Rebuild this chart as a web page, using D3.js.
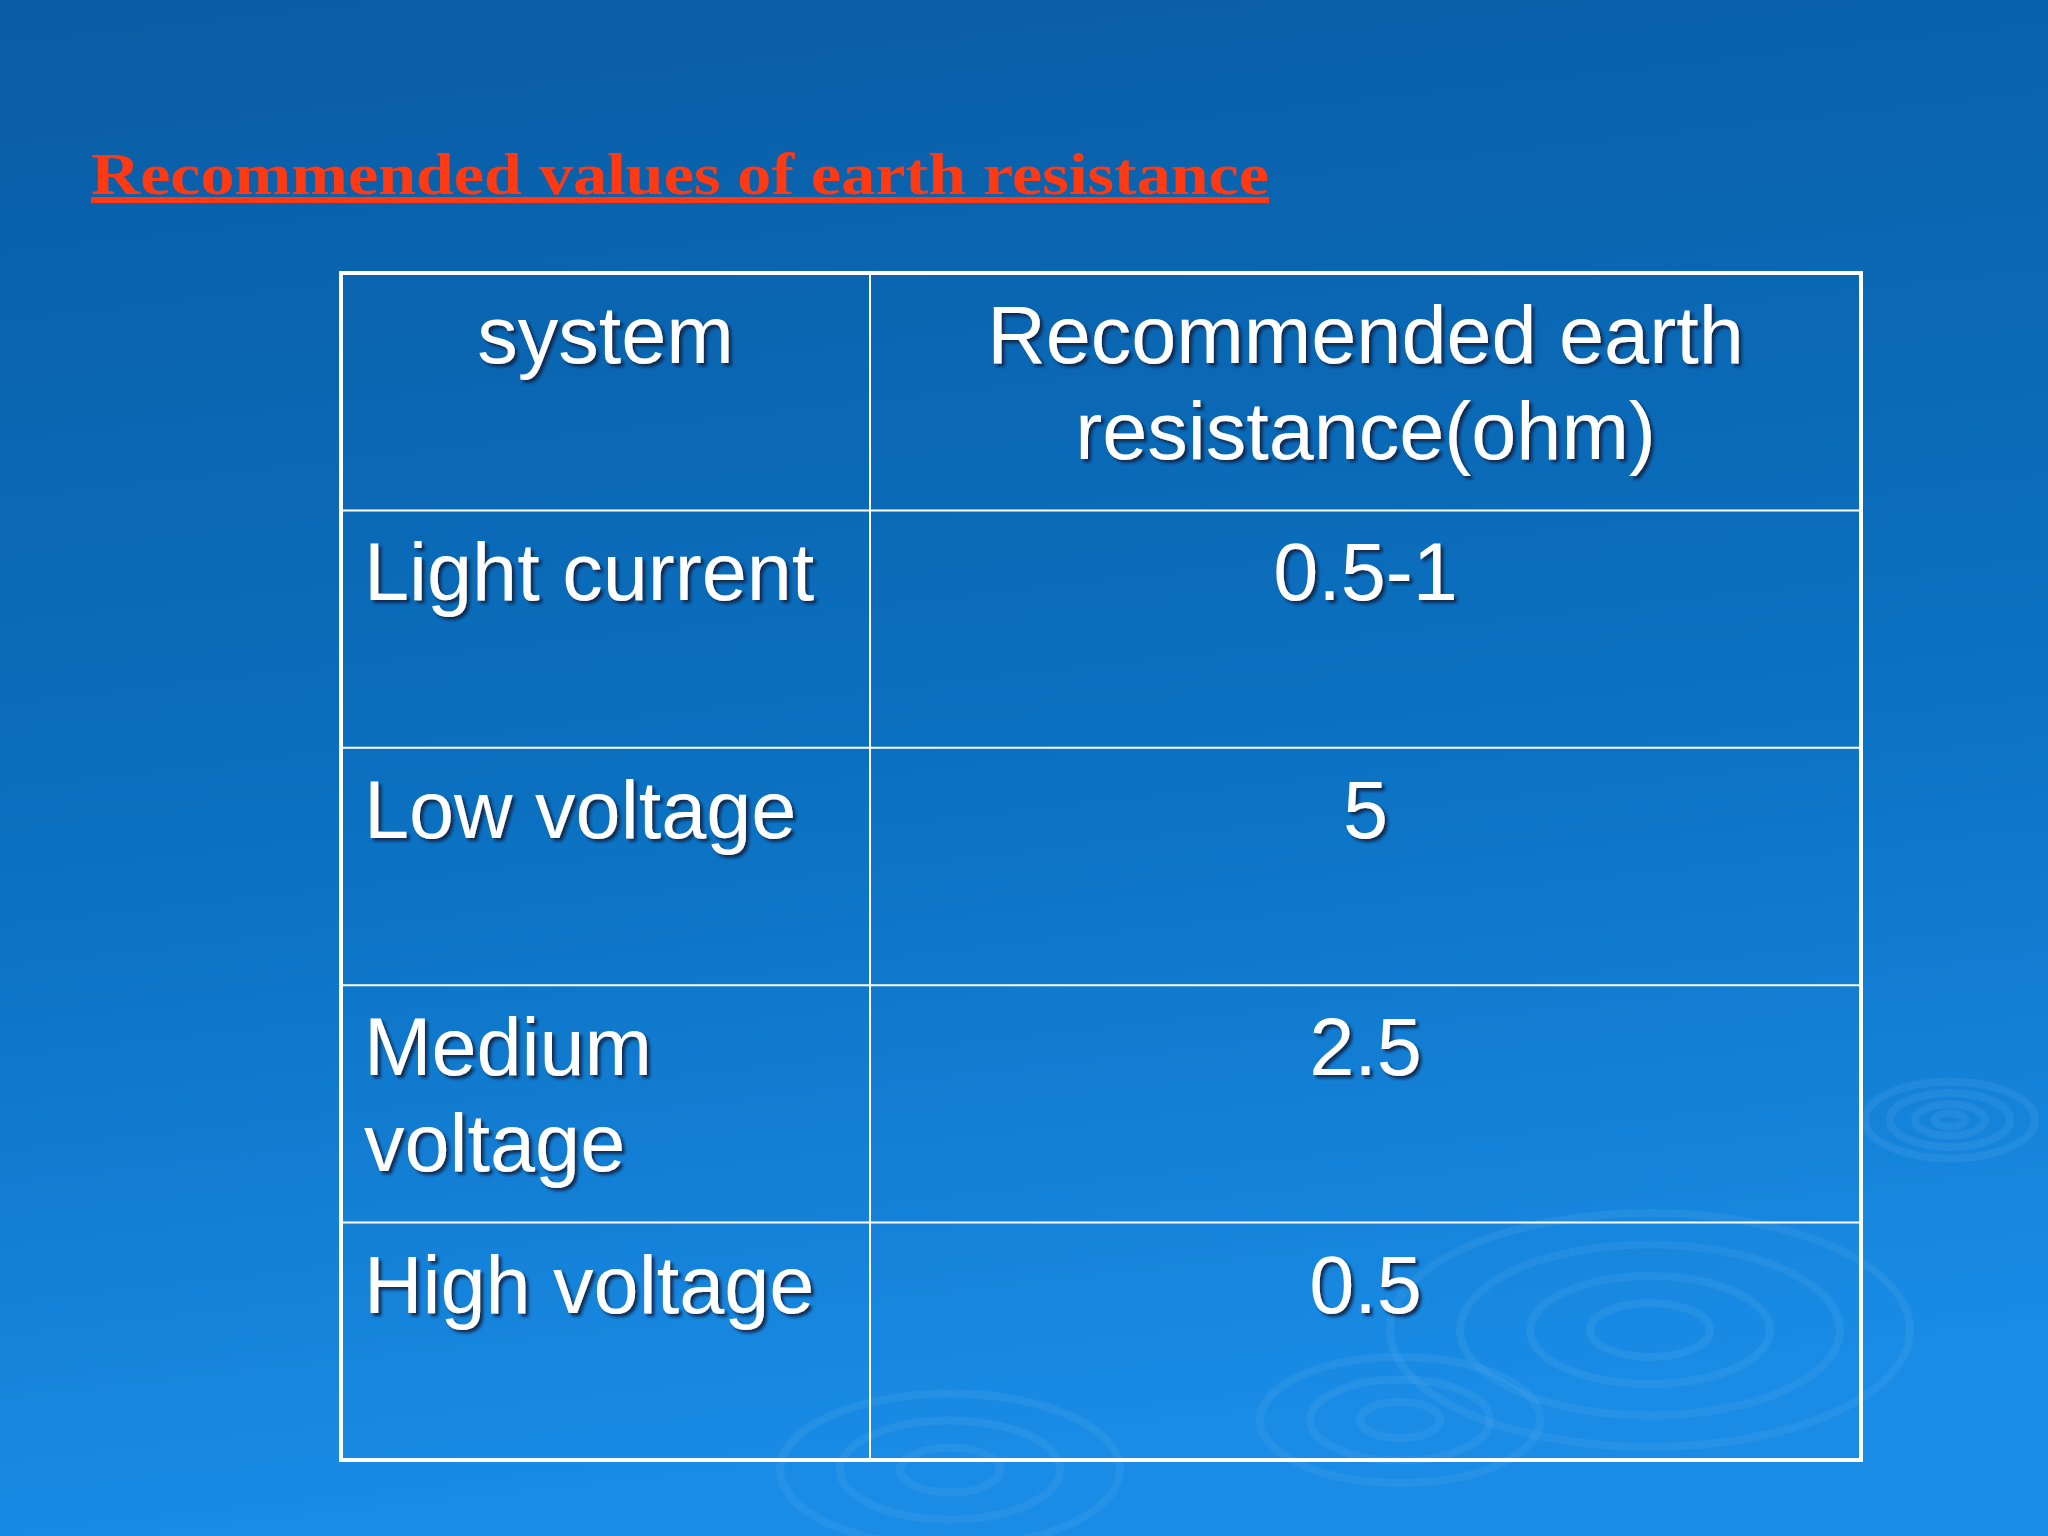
<!DOCTYPE html>
<html>
<head>
<meta charset="utf-8">
<script src="https://cdn.jsdelivr.net/npm/d3@7.9.0/dist/d3.min.js"></script>
<style>
  html, body { margin: 0; padding: 0; background: #0b62ab; }
  svg { display: block; }
</style>
</head>
<body>
<svg id="chart" width="2048" height="1536"></svg>
<script>
const title = 'Recommended values of earth resistance';
const headers = [['system'], ['Recommended earth', 'resistance(ohm)']];
const systems = [['Light current'], ['Low voltage'], ['Medium', 'voltage'], ['High voltage']];
const values = ['0.5-1', '5', '2.5', '0.5'];

const W = 2048, H = 1536;
const svg = d3.select('#chart');
const defs = svg.append('defs');

const bg = defs.append('linearGradient').attr('id', 'bg')
  .attr('x1', 0).attr('y1', 0).attr('x2', 0.15).attr('y2', 1);
bg.append('stop').attr('offset', '0%').attr('stop-color', '#0a5ca4');
bg.append('stop').attr('offset', '55%').attr('stop-color', '#0b70c0');
bg.append('stop').attr('offset', '100%').attr('stop-color', '#1a8ce6');

const shadow = defs.append('filter').attr('id', 'shadow')
  .attr('x', '-10%').attr('y', '-10%').attr('width', '130%').attr('height', '140%');
shadow.append('feDropShadow').attr('dx', 3).attr('dy', 3).attr('stdDeviation', 1.5)
  .attr('flood-color', '#0a2040').attr('flood-opacity', 0.85);

svg.append('rect').attr('width', W).attr('height', H).attr('fill', 'url(#bg)');

// faint ripple decorations
const ripples = [
  { cx: 1650, cy: 1330, r: [60, 120, 190, 260] },
  { cx: 1950, cy: 1120, r: [15, 35, 60, 85] },
  { cx: 1400, cy: 1420, r: [40, 90, 140] },
  { cx: 950, cy: 1470, r: [50, 110, 170] }
];
ripples.forEach(rp => {
  svg.append('g').selectAll('ellipse').data(rp.r).join('ellipse')
    .attr('cx', rp.cx).attr('cy', rp.cy)
    .attr('rx', d => d).attr('ry', d => d * 0.45)
    .attr('fill', 'none').attr('stroke', '#5fb3f0')
    .attr('stroke-opacity', 0.18).attr('stroke-width', 8);
});

// title
svg.append('text')
  .attr('x', 91).attr('y', 194)
  .attr('font-family', '"Liberation Serif", "Times New Roman", serif')
  .attr('font-weight', 'bold').attr('font-size', 60)
  .attr('fill', '#ff3a12').attr('text-decoration', 'underline')
  .attr('textLength', 1178).attr('lengthAdjust', 'spacingAndGlyphs')
  .text(title);

// table geometry via scales
const tLeft = 341, tMid = 870, tRight = 1861, tTop = 273, tBottom = 1460;
const rowLabels = ['header'].concat(systems.map((d, i) => 'r' + i));
const y = d3.scaleBand().domain(rowLabels).range([tTop, tBottom]);
const x = d3.scaleOrdinal().domain([0, 1]).range([[tLeft, tMid], [tMid, tRight]]);

const grid = svg.append('g').attr('stroke', '#ffffff');
grid.selectAll('line.h').data(rowLabels.slice(1)).join('line')
  .attr('x1', tLeft).attr('x2', tRight)
  .attr('y1', d => y(d)).attr('y2', d => y(d)).attr('stroke-width', 2);
grid.append('line').attr('x1', tMid).attr('x2', tMid).attr('y1', tTop).attr('y2', tBottom)
  .attr('stroke-width', 2);
grid.append('rect').attr('x', tLeft).attr('y', tTop)
  .attr('width', tRight - tLeft).attr('height', tBottom - tTop)
  .attr('fill', 'none').attr('stroke-width', 4);

const fontSize = 81, lineH = 96;
const textG = svg.append('g')
  .attr('font-family', '"Liberation Sans", Arial, sans-serif')
  .attr('font-size', fontSize).attr('fill', '#ffffff')
  .attr('filter', 'url(#shadow)');

function cell(lines, col, row, align) {
  const [x0, x1] = x(col);
  const tx = align === 'middle' ? (x0 + x1) / 2 : x0 + 23;
  const t = textG.append('text')
    .attr('text-anchor', align === 'middle' ? 'middle' : 'start')
    .attr('x', tx)
    .attr('y', y(row) + 90);
  lines.forEach((ln, i) => {
    t.append('tspan').attr('x', tx).attr('dy', i === 0 ? 0 : lineH).text(ln);
  });
}

headers.forEach((h, i) => cell(h, i, 'header', 'middle'));
systems.forEach((s, i) => cell(s, 0, 'r' + i, 'start'));
values.forEach((v, i) => cell([v], 1, 'r' + i, 'middle'));
</script>
</body>
</html>
